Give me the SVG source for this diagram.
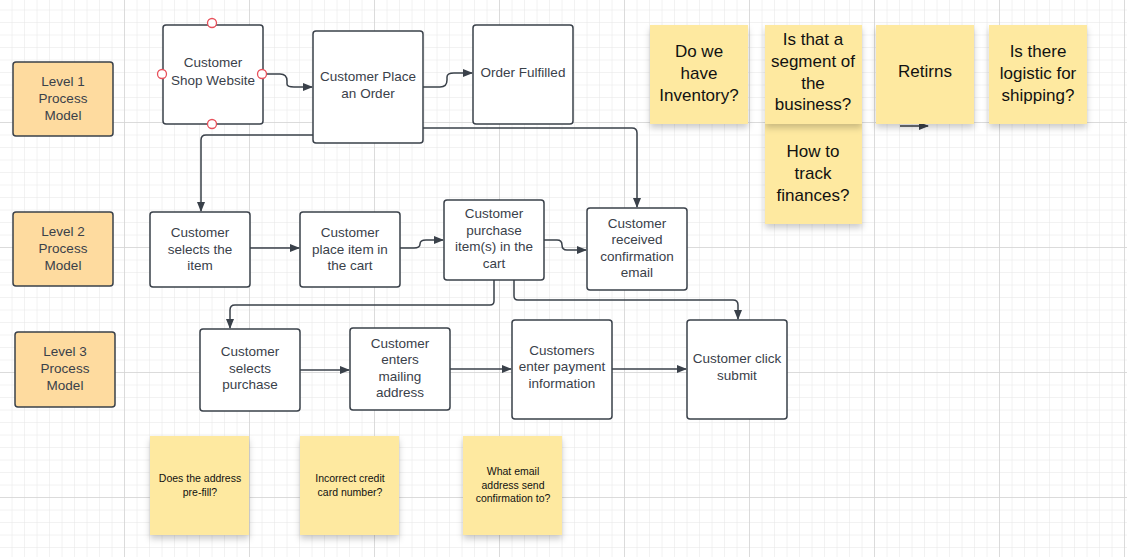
<svg xmlns="http://www.w3.org/2000/svg" width="1127" height="557" viewBox="0 0 1127 557">
<defs>
<pattern id="minor" width="12.5" height="12.5" patternUnits="userSpaceOnUse" x="0" y="-2"><path d="M12.5 0V12.5M0 12.5H12.5" fill="none" stroke="#e6e6e6" stroke-width="1"/></pattern>
<pattern id="major" width="125" height="125" patternUnits="userSpaceOnUse" x="0" y="-2"><path d="M125 0V125M0 125H125" fill="none" stroke="#d4d4d4" stroke-width="1.5"/></pattern>
<marker id="ah" markerWidth="10" markerHeight="8" refX="9" refY="4" orient="auto" markerUnits="userSpaceOnUse"><path d="M0 0L10 4L0 8Z" fill="#3a414a"/></marker>
<filter id="sh" x="-10%" y="-10%" width="120%" height="130%"><feDropShadow dx="0" dy="4" stdDeviation="3" flood-color="#000" flood-opacity="0.2"/></filter>
</defs>
<style>
.n{fill:#fff;stroke:#3a414a;stroke-width:1.5}
.lv{fill:#fedb9f;stroke:#3a414a;stroke-width:1.5}
.st{fill:#fee9a0;filter:url(#sh)}
.c{fill:none;stroke:#3a414a;stroke-width:1.5;marker-end:url(#ah)}
.cn{fill:none;stroke:#3a414a;stroke-width:1.5}
text{font-family:"Liberation Sans",Arial,sans-serif;fill:#3a414a;font-size:13.5px;text-anchor:middle}
.big{font-size:17px;fill:#111}
.sm{font-size:10.5px;fill:#111}
.pt{fill:#fff;stroke:#e8505b;stroke-width:1.3}
</style>
<rect width="1127" height="557" fill="#fff"/>
<rect width="1127" height="557" fill="url(#minor)"/>
<rect width="1127" height="557" fill="url(#major)"/>

<g id="connectors">
<path class="c" d="M263 74H280Q287 74 287 81V84Q287 87 294 87H312"/>
<path class="c" d="M423 87H440Q447 87 447 80V77Q447 73 454 73H472"/>
<path class="c" d="M313 135H206Q201 135 201 140V211"/>
<path class="c" d="M423 128H632Q637 128 637 133V207"/>
<path class="c" d="M250 248H299"/>
<path class="c" d="M400 248H414Q420 248 420 244V244Q420 240 426 240H443"/>
<path class="c" d="M544 240H557Q562 240 562 245V245Q562 250 567 250H586"/>
<path class="c" d="M494 280V301Q494 305 490 305H235Q230 305 230 310V328"/>
<path class="c" d="M514 280V296Q514 300 518 300H733Q738 300 738 305V319"/>
<path class="c" d="M300 370H349"/>
<path class="c" d="M450 369H511"/>
<path class="c" d="M612 369H686"/>
<path class="c" d="M900 126H928"/>
</g>

<g id="level1"><rect class="lv" x="13" y="62" width="100" height="74" rx="3"/><text x="63" y="86">Level 1</text><text x="63" y="103">Process</text><text x="63" y="120">Model</text></g>
<g id="level2"><rect class="lv" x="13" y="212" width="100" height="74" rx="3"/><text x="63" y="236">Level 2</text><text x="63" y="253">Process</text><text x="63" y="270">Model</text></g>
<g id="level3"><rect class="lv" x="15" y="332" width="100" height="75" rx="3"/><text x="65" y="356">Level 3</text><text x="65" y="373">Process</text><text x="65" y="390">Model</text></g>

<g id="shop"><rect class="n" x="163" y="25" width="100" height="99" rx="3"/><text x="213" y="67">Customer</text><text x="213" y="85">Shop Website</text>
<circle class="pt" cx="212" cy="23" r="4.5"/><circle class="pt" cx="162" cy="74" r="4.5"/><circle class="pt" cx="262" cy="74" r="4.5"/><circle class="pt" cx="212" cy="124" r="4.5"/></g>
<g id="placeorder"><rect class="n" x="313" y="31" width="110" height="112" rx="3"/><text x="368" y="81">Customer Place</text><text x="368" y="98">an Order</text></g>
<g id="fulfilled"><rect class="n" x="473" y="25" width="100" height="99" rx="3"/><text x="523" y="77">Order Fulfilled</text></g>

<g id="q1"><rect class="st" x="650" y="25" width="98" height="99"/><text class="big" x="699" y="57">Do we</text><text class="big" x="699" y="79">have</text><text class="big" x="699" y="101">Inventory?</text></g>
<g id="q2"><rect class="st" x="765" y="124" width="97" height="100"/><text class="big" x="813" y="157">How to</text><text class="big" x="813" y="179">track</text><text class="big" x="813" y="201">finances?</text></g>
<g id="q3"><rect class="st" x="765" y="25" width="97" height="99"/><text class="big" x="813" y="45">Is that a</text><text class="big" x="813" y="67">segment of</text><text class="big" x="813" y="89">the</text><text class="big" x="813" y="110">business?</text></g>
<g id="q4"><rect class="st" x="876" y="25" width="98" height="99"/><text class="big" x="925" y="77">Retirns</text></g>
<g id="q5"><rect class="st" x="989" y="25" width="98" height="99"/><text class="big" x="1038" y="57">Is there</text><text class="big" x="1038" y="79">logistic for</text><text class="big" x="1038" y="101">shipping?</text></g>

<g id="selectitem"><rect class="n" x="150" y="212" width="100" height="75" rx="3"/><text x="200" y="237">Customer</text><text x="200" y="254">selects the</text><text x="200" y="270">item</text></g>
<g id="placecart"><rect class="n" x="300" y="212" width="100" height="75" rx="3"/><text x="350" y="237">Customer</text><text x="350" y="254">place item in</text><text x="350" y="270">the cart</text></g>
<g id="purchase"><rect class="n" x="444" y="200" width="100" height="80" rx="3"/><text x="494" y="218">Customer</text><text x="494" y="235">purchase</text><text x="494" y="251">item(s) in the</text><text x="494" y="268">cart</text></g>
<g id="received"><rect class="n" x="587" y="208" width="100" height="82" rx="3"/><text x="637" y="228">Customer</text><text x="637" y="244">received</text><text x="637" y="261">confirmation</text><text x="637" y="277">email</text></g>

<g id="selpurchase"><rect class="n" x="200" y="329" width="100" height="82" rx="3"/><text x="250" y="356">Customer</text><text x="250" y="373">selects</text><text x="250" y="389">purchase</text></g>
<g id="mailing"><rect class="n" x="350" y="328" width="100" height="82" rx="3"/><text x="400" y="348">Customer</text><text x="400" y="364">enters</text><text x="400" y="381">mailing</text><text x="400" y="397">address</text></g>
<g id="payment"><rect class="n" x="512" y="320" width="100" height="99" rx="3"/><text x="562" y="355">Customers</text><text x="562" y="371">enter payment</text><text x="562" y="388">information</text></g>
<g id="submit"><rect class="n" x="687" y="320" width="100" height="99" rx="3"/><text x="737" y="363">Customer click</text><text x="737" y="380">submit</text></g>

<g id="b1"><rect class="st" x="150" y="436" width="99" height="99"/><text class="sm" x="200" y="482">Does the address</text><text class="sm" x="200" y="496">pre-fill?</text></g>
<g id="b2"><rect class="st" x="300" y="436" width="99" height="99"/><text class="sm" x="350" y="482">Incorrect credit</text><text class="sm" x="350" y="496">card number?</text></g>
<g id="b3"><rect class="st" x="463" y="436" width="99" height="99"/><text class="sm" x="513" y="475">What email</text><text class="sm" x="513" y="489">address send</text><text class="sm" x="513" y="502">confirmation to?</text></g>
</svg>
